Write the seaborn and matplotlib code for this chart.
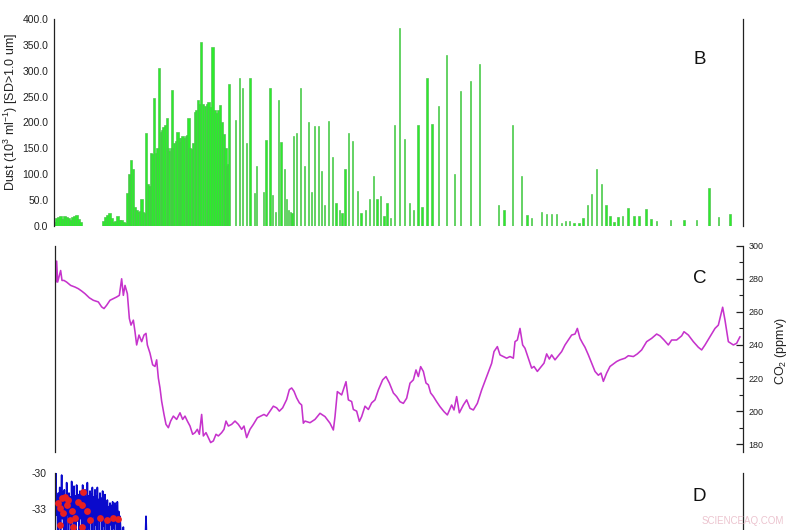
import numpy as np
import pandas as pd
import matplotlib
matplotlib.use('Agg')
import matplotlib.pyplot as plt
from matplotlib.ticker import MultipleLocator, FormatStrFormatter
import seaborn as sns

# ---- panel B: dust concentration (age in ka) ----
dust_age = [0.1, 0.5, 0.9, 1.3, 1.7, 2.1, 2.5, 2.9, 3.3, 3.7, 4.1, 4.5, 4.9, 5.3,
            9.9, 10.3, 10.7, 11.1, 11.5, 11.9, 12.3, 12.7, 13.1, 13.5, 13.9, 14.3,
            14.66, 15.0, 15.2, 15.4, 15.74, 16.14, 16.46, 16.8, 17.14, 17.46, 17.8, 18.14,
            18.34, 18.74, 19.06, 19.34, 19.66, 19.94, 20.34, 20.66, 20.94, 21.34,
            21.6, 21.86, 22.2, 22.5, 22.8, 23.0, 23.3, 23.54, 23.8, 24.0,
            24.34, 24.66, 24.9, 25.14, 25.4, 25.66, 26.0, 26.34, 26.6, 26.86,
            27.2, 27.54, 27.8, 28.14, 28.4, 28.74, 29.06, 29.4, 29.76, 30.14,
            30.5, 30.86, 31.26, 31.66, 32.06, 32.46, 32.84, 33.2, 33.56, 33.94,
            34.24, 34.54, 34.8, 35.0,
            36.2, 37.0, 37.66, 38.46, 39.14, 40.0, 40.46, 41.8, 42.34, 43.14,
            43.66, 44.2, 44.8, 45.34, 46.0, 46.46, 46.86, 47.2, 47.54, 47.8,
            48.46, 49.2, 50.0, 50.8, 51.4, 52.0, 52.8, 53.4, 54.0, 54.8,
            55.66, 56.34, 57.0, 57.54, 58.14, 58.8, 59.66, 60.66, 61.34, 62.2,
            63.0, 63.8, 64.54, 65.2, 65.86, 66.54, 67.2, 68.0, 69.0, 70.0,
            71.0, 71.8, 72.66, 73.54, 74.46, 75.54, 76.8, 78.34, 79.94, 81.2,
            83.14, 85.0,
            88.74, 89.86, 91.54, 93.4, 94.46, 95.34, 97.34, 98.34, 99.34, 100.34,
            101.34, 102.2, 103.0, 103.86, 104.86, 105.66, 106.54, 107.34, 108.34, 109.34,
            110.2, 111.0, 111.8, 112.66, 113.54, 114.66, 115.8, 116.86, 118.2, 119.2,
            120.34, 123.14, 125.8, 128.34, 130.8, 132.66, 135.0]
dust_val = [8, 15, 18, 20, 14, 19, 18, 16, 12, 18, 20, 21, 13, 8,
            10, 18, 22, 25, 15, 8, 10, 20, 12, 12, 8, 6,
            64, 100, 98, 127, 110, 37, 31, 28, 29, 52, 28, 25,
            180, 81, 78, 142, 140, 247, 141, 150, 305, 182,
            185, 192, 195, 208, 150, 144, 150, 263, 150, 160,
            165, 182, 170, 163, 170, 174, 170, 174, 175, 208,
            150, 148, 160, 221, 225, 243, 235, 356, 235, 231,
            235, 240, 230, 346, 225, 218, 225, 234, 200, 178,
            150, 116, 120, 274,
            205, 285, 266, 160, 285, 63, 115, 66, 166, 266,
            60, 28, 243, 163, 111, 53, 31, 28, 25, 173,
            179, 266, 115, 200, 66, 193, 193, 107, 41, 203,
            134, 45, 30, 25, 111, 180, 165, 68, 26, 30,
            53, 97, 53, 58, 19, 45, 15, 195, 382, 169,
            45, 31, 195, 36, 285, 197, 232, 330, 100, 261,
            281, 313,
            41, 31, 196, 97, 21, 15, 28, 23, 23, 23,
            6, 10, 10, 6, 5, 15, 41, 62, 111, 81,
            41, 19, 8, 18, 19, 34, 19, 19, 33, 13,
            10, 12, 12, 12, 73, 18, 23]

# ---- panel C: CO2 ----
co2_age = [0.2, 0.33, 0.53, 0.87, 1.13, 1.4, 1.8, 2.33, 3.13, 4.0,
           4.67, 5.33, 6.0, 6.87, 7.67, 8.67, 9.33, 9.8, 10.33, 11.0,
           11.67, 12.33, 12.87, 13.33, 13.67, 14.0, 14.47, 14.87, 15.2, 15.67,
           16.0, 16.33, 16.8, 17.33, 17.8, 18.2, 18.47, 19.0, 19.53, 20.0,
           20.33, 20.67, 21.0, 21.33, 21.8, 22.2, 22.67, 23.13, 23.67, 24.33,
           25.0, 25.53, 26.0, 26.47, 27.0, 27.53, 28.0, 28.47, 28.87, 29.33,
           29.67, 30.2, 30.67, 31.13, 31.67, 32.2, 32.67, 33.33, 33.8, 34.2,
           34.67, 35.33, 36.0, 36.67, 37.33, 37.8, 38.33, 39.0, 39.67, 40.47,
           41.13, 41.8, 42.33, 43.0, 43.67, 44.33, 44.87, 45.53, 46.33, 46.87,
           47.33, 47.8, 48.33, 48.87, 49.33, 49.67, 50.0, 51.0, 52.0, 53.0,
           54.0, 55.0, 55.67, 56.0, 56.47, 57.33, 58.2, 58.67, 59.33, 59.67,
           60.33, 60.87, 61.33, 62.0, 62.67, 63.33, 64.0, 64.67, 65.53, 66.2,
           66.87, 67.67, 68.33, 69.0, 69.67, 70.33, 71.0, 71.67, 72.2, 72.67,
           73.13, 73.67, 74.2, 74.67, 75.13, 75.67, 76.33, 77.0, 77.8, 78.47,
           79.33, 79.8, 80.33, 80.87, 81.67, 82.33, 83.0, 83.67, 84.47, 85.33,
           86.33, 87.33, 87.8, 88.47, 89.0, 89.67, 90.33, 91.0, 91.67, 92.0,
           92.47, 93.0, 93.53, 94.0, 94.67, 95.33, 95.8, 96.47, 97.0, 97.8,
           98.33, 98.87, 99.33, 100.0, 100.67, 101.33, 102.0, 102.67, 103.33, 104.0,
           104.47, 105.0, 105.53, 106.0, 106.67, 107.33, 108.0, 108.67, 109.2, 109.67,
           110.33, 111.0, 111.67, 112.33, 113.0, 114.0, 114.67, 115.67, 116.47, 117.33,
           118.33, 119.33, 120.33, 121.0, 121.8, 122.67, 123.33, 124.33, 125.33, 125.8,
           126.67, 127.67, 128.67, 129.33, 130.0, 131.0, 132.0, 132.67, 133.53, 134.0,
           134.67, 135.67, 136.33, 137.0]
co2_ppm = [278, 290.7, 278, 282, 285, 279, 279, 278, 276, 275,
           274, 272.6, 271, 268.5, 267, 266, 263, 262, 264, 267,
           268, 269, 270, 280, 270, 276, 271, 256, 252, 255,
           248, 240, 246, 242, 246, 247, 240, 235, 228, 227,
           231, 220, 214, 206, 198, 192, 190, 194, 197, 195,
           199, 195, 197, 194, 191, 186, 187, 189, 186, 198,
           185, 187, 184, 181, 182, 186, 185, 187, 189, 194,
           191, 192, 194, 192, 189, 191, 184, 189, 192, 196,
           197, 198, 197, 200, 203, 202, 200, 202, 207, 213,
           214, 212, 208, 205, 203.7, 192.7, 194, 193, 195, 198.7,
           196.7, 192.7, 188.6, 196.7, 211.8, 209.8, 217.8, 206.8, 205.8, 201,
           200, 193.8, 196.7, 203, 201, 205, 206.8, 212.8, 218.9, 220.9,
           217, 211, 208.8, 205.7, 204.7, 207.8, 216.9, 218.9, 224.9, 220.9,
           226.9, 224, 217, 215.9, 211, 208.9, 205.7, 202.7, 199.7, 197.7,
           203.7, 200.7, 208.8, 199, 203.7, 206.8, 201.7, 200.7, 204.7, 212.8,
           220.9, 228.9, 236, 239, 234, 233, 232, 233, 232, 242,
           243, 250, 240, 238, 232, 226, 227, 224, 226, 229,
           234.6, 231.5, 234, 231, 233.5, 236, 240, 243, 246, 246.6,
           250, 244, 241, 238.6, 234, 229, 224, 221.7, 223, 218,
           223, 227, 228.5, 230, 231, 232, 233.5, 233, 234.6, 237,
           242, 244, 246.6, 245.5, 243, 240, 243, 243, 245.5, 248,
           246, 242, 238.6, 237, 240, 245, 250, 252, 262.8, 255,
           242, 240, 241, 245]

# ---- panel D: isotope record (only the top is visible) ----
d_age = [0.0, 0.15, 0.3, 0.45, 0.55, 0.67, 0.8, 0.95, 1.1, 1.33,
         1.45, 1.6, 1.75, 1.87, 2.0, 2.15, 2.25, 2.33, 2.45, 2.6,
         2.7, 2.8, 2.95, 3.1, 3.2, 3.33, 3.45, 3.6, 3.7, 3.8,
         3.95, 4.1, 4.2, 4.33, 4.5, 4.7, 4.85, 5.0, 5.15, 5.3,
         5.42, 5.53, 5.7, 5.85, 5.93, 6.0, 6.12, 6.25, 6.37, 6.47,
         6.6, 6.75, 6.88, 7.0, 7.12, 7.25, 7.37, 7.47, 7.6, 7.75,
         7.88, 8.0, 8.12, 8.25, 8.37, 8.47, 8.6, 8.75, 8.88, 9.0,
         9.12, 9.28, 9.4, 9.53, 9.65, 9.8, 9.9, 10.0, 10.12, 10.25,
         10.37, 10.47, 10.6, 10.75, 10.88, 11.0, 11.12, 11.28, 11.4, 11.53,
         11.65, 11.8, 11.9, 12.0, 12.12, 12.3, 12.4, 12.47, 12.6, 12.75,
         12.88, 13.0, 13.3, 13.67, 14.0, 18.0, 18.2, 18.4, 20.0]
d_val = [-34.0, -30.0, -33.5, -31.9, -35.0, -31.67, -34.2, -31.2, -35.5, -30.17,
         -33.8, -31.6, -35.2, -31.4, -34.0, -31.9, -35.0, -30.8, -33.5, -31.8,
         -35.4, -31.67, -34.2, -32.0, -35.6, -30.7, -33.9, -31.7, -35.0, -31.1,
         -34.5, -31.9, -35.3, -31.0, -34.0, -31.8, -35.4, -31.5, -33.8, -31.7,
         -35.1, -31.0, -34.4, -31.9, -35.6, -31.4, -33.7, -32.0, -35.0, -30.8,
         -34.6, -31.9, -35.5, -31.5, -34.0, -31.8, -35.2, -31.2, -33.6, -32.0,
         -35.4, -31.4, -34.3, -31.9, -35.7, -31.2, -34.0, -32.2, -35.3, -31.67,
         -33.9, -32.1, -35.5, -31.5, -34.4, -32.3, -35.6, -31.8, -34.1, -32.5,
         -35.2, -32.25, -34.8, -32.8, -35.7, -32.5, -34.3, -32.7, -35.4, -32.4,
         -34.6, -32.9, -35.8, -32.5, -34.2, -32.8, -35.5, -32.4, -34.7, -33.2,
         -35.9, -33.6, -36.0, -34.5, -36.5, -36.5, -33.6, -36.5, -37.0]
dot_age = [0.67, 1.33, 2.0, 2.67, 1.0, 1.67, 2.33, 3.33, 4.0, 3.0, 4.67,
           5.33, 5.67, 6.33, 7.0, 9.0, 10.33, 11.67, 12.67, 1.0, 3.67, 5.33]
dot_val = [-32.53, -32.1, -31.97, -32.25, -32.94, -33.36, -32.67, -33.2, -33.78,
           -33.92, -32.39, -32.67, -31.56, -33.2, -33.92, -33.78, -33.92, -33.78,
           -33.86, -34.33, -34.47, -34.47]

AGE_MAX = 137.6
INK = '#222222'

sns.set_style('white')
plt.rcParams['font.family'] = ['Liberation Sans', 'DejaVu Sans']
plt.rcParams['mathtext.fontset'] = 'custom'
plt.rcParams['mathtext.rm'] = 'Liberation Sans'
plt.rcParams['mathtext.it'] = 'Liberation Sans:italic'
plt.rcParams['axes.unicode_minus'] = False

fig = plt.figure(figsize=(8, 5.3), dpi=100)


def frame(ax, left=True, right=True):
    for s in ['top', 'bottom']:
        ax.spines[s].set_visible(False)
    ax.spines['left'].set_visible(left)
    ax.spines['right'].set_visible(right)
    for s in ['left', 'right']:
        ax.spines[s].set_color(INK)
        ax.spines[s].set_linewidth(0.9)
    ax.set_xlim(0, AGE_MAX)
    ax.set_xticks([])
    ax.set_xlabel('')
    ax.patch.set_alpha(0)


# panel B: closely spaced samples before 35 ka drawn as wider bars
bar_w = [0.45 if a < 35.1 else 0.3 for a in dust_age]
ax_b = fig.add_axes([0.0675, 0.5736, 0.86125, 0.3906])
ax_b.bar(dust_age, dust_val, width=bar_w, color='#2cec2c',
         edgecolor='#4cc04c', linewidth=0.45)
frame(ax_b)
ax_b.set_ylim(0, 400)
ax_b.yaxis.set_major_locator(MultipleLocator(50))
ax_b.yaxis.set_minor_locator(MultipleLocator(25))
ax_b.yaxis.set_major_formatter(FormatStrFormatter('%.1f'))
ax_b.tick_params(axis='y', which='major', direction='in', length=6, width=0.9,
                 labelsize=7.5, pad=4, color=INK, labelcolor=INK)
ax_b.tick_params(axis='y', which='minor', direction='in', length=3.5, width=0.8,
                 color=INK)
ax_b.set_ylabel(r'Dust (10$^3$ ml$^{-1}$) [SD>1.0 um]', fontsize=9, color=INK)
ax_b.yaxis.set_label_coords(-0.05, 0.55)

# panel C
ax_c = fig.add_axes([0.06875, 0.14717, 0.86, 0.38925])
sns.lineplot(x=co2_age, y=co2_ppm, ax=ax_c, color='#c633cc', linewidth=1.15,
             estimator=None, sort=False)
frame(ax_c)
ax_c.set_ylim(175.3, 300)
ax_c.yaxis.tick_right()
ax_c.yaxis.set_label_position('right')
ax_c.yaxis.set_major_locator(MultipleLocator(20))
ax_c.yaxis.set_minor_locator(MultipleLocator(10))
ax_c.tick_params(axis='y', which='major', direction='in', length=5, width=0.9,
                 labelsize=6.5, pad=4, color=INK, labelcolor=INK,
                 left=False, right=True, labelleft=False, labelright=True)
ax_c.tick_params(axis='y', which='minor', direction='in', length=3, width=0.8,
                 color=INK, left=False, right=True)
ax_c.set_ylabel('CO$_2$ (ppmv)', fontsize=9, color=INK, rotation=90)
ax_c.yaxis.set_label_coords(1.044, 0.49)

# panel D
ax_d = fig.add_axes([0.06875, -0.3019, 0.86, 0.4094])
sns.lineplot(x=d_age, y=d_val, ax=ax_d, color='#0a0acc', linewidth=1.2,
             estimator=None, sort=False)
sns.scatterplot(x=dot_age, y=dot_val, ax=ax_d, color='#e82020', s=24,
                linewidth=0, zorder=3)
frame(ax_d)
ax_d.set_ylim(-48.08, -30)
ax_d.set_yticks([-30, -33])
ax_d.tick_params(axis='y', which='major', direction='in', length=6, width=0.9,
                 labelsize=7.5, pad=6, color=INK, labelcolor=INK)
ax_d.set_ylabel('')

# panel letters
for lab, y in [('B', 0.8868), ('C', 0.4736), ('D', 0.0632)]:
    fig.text(0.8745, y, lab, fontsize=13.5, ha='center', va='center', color='#111111')

fig.text(0.929, 0.017, 'SCIENCEAQ.COM', fontsize=7, color='#ecc4cf',
         ha='center', va='center')

fig.savefig('out.png', dpi=100)
